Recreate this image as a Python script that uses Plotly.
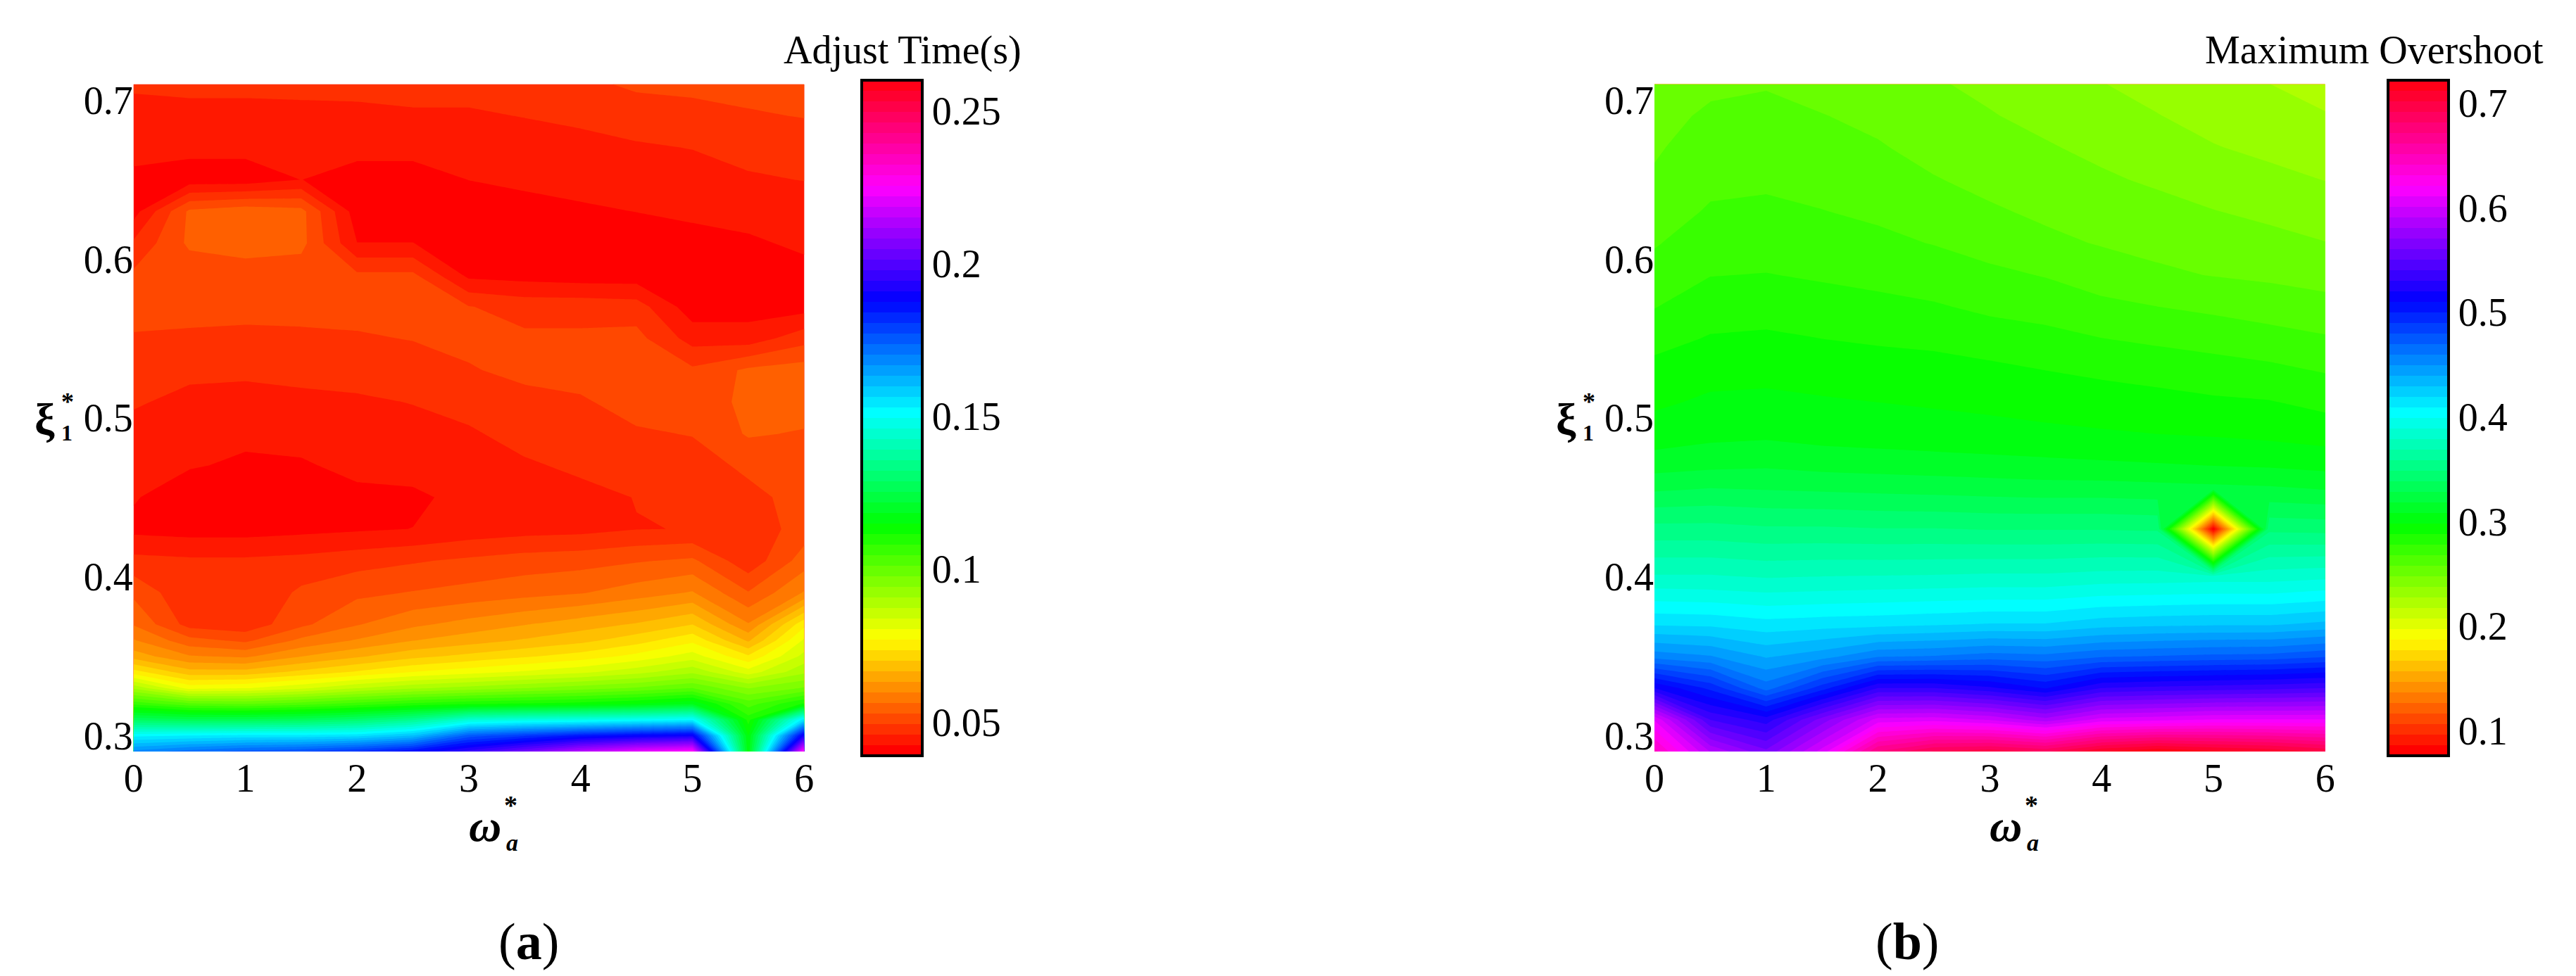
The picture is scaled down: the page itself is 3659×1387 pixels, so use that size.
import colorsys
import numpy as np
import plotly.graph_objects as go

# ---------------- data ----------------
omega = [0, 0.5, 1, 1.5, 2, 2.5, 3, 3.5, 4, 4.5, 5, 5.5, 6]

# (a) adjust time, grid rows (xi) from bottom to top
xi_a = [0.29, 0.30, 0.31, 0.32, 0.33, 0.34, 0.35, 0.36, 0.37,
        0.39, 0.41, 0.43, 0.45, 0.47, 0.49, 0.51, 0.53, 0.55,
        0.57, 0.59, 0.61, 0.63, 0.65, 0.67, 0.69, 0.71]

# one column per omega value, values listed along xi_a
adjust_time_cols = [
    [0.168, 0.152, 0.128, 0.107, 0.090, 0.075, 0.065, 0.060, 0.056,
     0.052, 0.047, 0.0415, 0.0428, 0.0438, 0.045, 0.0462, 0.047, 0.0492,
     0.050, 0.050, 0.0465, 0.041, 0.0415, 0.0438, 0.0445, 0.0465],
    [0.172, 0.153, 0.126, 0.102, 0.079, 0.068, 0.060, 0.054, 0.048,
     0.0465, 0.0465, 0.041, 0.040, 0.0428, 0.0438, 0.0452, 0.0465, 0.0488,
     0.0505, 0.0505, 0.0535, 0.0535, 0.0405, 0.0435, 0.0445, 0.047],
    [0.175, 0.154, 0.126, 0.101, 0.080, 0.068, 0.059, 0.052, 0.047,
     0.0462, 0.0465, 0.041, 0.040, 0.0418, 0.0433, 0.0448, 0.0465, 0.0485,
     0.0505, 0.0505, 0.055, 0.055, 0.0405, 0.0435, 0.0445, 0.047],
    [0.177, 0.154, 0.127, 0.103, 0.083, 0.071, 0.063, 0.057, 0.052,
     0.050, 0.047, 0.0415, 0.0405, 0.042, 0.0438, 0.0452, 0.0468, 0.0487,
     0.0505, 0.0505, 0.054, 0.054, 0.0425, 0.0435, 0.0448, 0.047],
    [0.181, 0.155, 0.130, 0.106, 0.087, 0.074, 0.066, 0.060, 0.056,
     0.052, 0.048, 0.042, 0.0415, 0.0435, 0.0445, 0.0455, 0.047, 0.049,
     0.0505, 0.050, 0.0425, 0.0405, 0.041, 0.0435, 0.045, 0.047],
    [0.187, 0.160, 0.135, 0.109, 0.090, 0.077, 0.069, 0.063, 0.059,
     0.053, 0.049, 0.0425, 0.0418, 0.0438, 0.045, 0.046, 0.0478, 0.0495,
     0.0505, 0.050, 0.0425, 0.0405, 0.041, 0.0435, 0.0455, 0.047],
    [0.196, 0.175, 0.145, 0.111, 0.092, 0.079, 0.071, 0.065, 0.061,
     0.054, 0.050, 0.0438, 0.0435, 0.0445, 0.0455, 0.047, 0.049, 0.0505,
     0.0495, 0.0415, 0.0405, 0.0405, 0.0425, 0.044, 0.0455, 0.047],
    [0.205, 0.180, 0.147, 0.112, 0.094, 0.081, 0.073, 0.067, 0.063,
     0.055, 0.051, 0.0445, 0.0445, 0.0455, 0.047, 0.048, 0.0505, 0.050,
     0.048, 0.041, 0.0405, 0.0415, 0.043, 0.0445, 0.046, 0.048],
    [0.215, 0.185, 0.148, 0.113, 0.096, 0.083, 0.075, 0.069, 0.065,
     0.056, 0.0515, 0.0448, 0.045, 0.0465, 0.0475, 0.049, 0.0505, 0.050,
     0.048, 0.0405, 0.0405, 0.042, 0.0435, 0.045, 0.0465, 0.0485],
    [0.222, 0.188, 0.150, 0.115, 0.098, 0.086, 0.078, 0.072, 0.067,
     0.058, 0.0525, 0.0458, 0.046, 0.0475, 0.049, 0.0505, 0.051, 0.0505,
     0.0475, 0.0405, 0.041, 0.0425, 0.044, 0.0455, 0.0475, 0.050],
    [0.226, 0.190, 0.152, 0.118, 0.101, 0.090, 0.082, 0.076, 0.070,
     0.060, 0.0535, 0.046, 0.0462, 0.048, 0.0495, 0.0505, 0.050, 0.0445,
     0.0405, 0.0405, 0.0415, 0.043, 0.0445, 0.046, 0.0485, 0.050],
    [0.116, 0.115, 0.110, 0.103, 0.094, 0.082, 0.074, 0.066, 0.060,
     0.053, 0.047, 0.047, 0.0485, 0.050, 0.0532, 0.0538, 0.0535, 0.044,
     0.041, 0.041, 0.042, 0.0435, 0.0455, 0.047, 0.049, 0.0505],
    [0.228, 0.192, 0.155, 0.112, 0.098, 0.090, 0.085, 0.081, 0.076,
     0.060, 0.0545, 0.051, 0.0505, 0.051, 0.0525, 0.0545, 0.0545, 0.048,
     0.041, 0.0415, 0.043, 0.044, 0.046, 0.0475, 0.0495, 0.051],
]

# (b) maximum overshoot, grid rows (xi) from bottom to top
xi_b = [0.29, 0.31, 0.33, 0.35, 0.37, 0.39, 0.40, 0.43, 0.455, 0.47, 0.49,
        0.51, 0.53, 0.55, 0.57, 0.59, 0.61, 0.63, 0.65, 0.67, 0.69, 0.71]

overshoot_cols = [
    [0.645, 0.610, 0.520, 0.455, 0.418, 0.392, 0.380, 0.352, 0.327, 0.314, 0.302,
     0.2965, 0.2915, 0.284, 0.2775, 0.2715, 0.267, 0.263, 0.259, 0.2565, 0.254, 0.252],
    [0.590, 0.540, 0.497, 0.450, 0.417, 0.391, 0.380, 0.352, 0.329, 0.316, 0.305,
     0.2995, 0.295, 0.2888, 0.2829, 0.2776, 0.2728, 0.2688, 0.2655, 0.2625, 0.2595, 0.2555],
    [0.563, 0.525, 0.465, 0.438, 0.413, 0.389, 0.378, 0.350, 0.328, 0.317, 0.306,
     0.300, 0.2955, 0.2897, 0.2836, 0.2782, 0.2736, 0.2694, 0.2664, 0.2633, 0.2603, 0.257],
    [0.605, 0.565, 0.495, 0.445, 0.415, 0.390, 0.379, 0.350, 0.327, 0.315, 0.304,
     0.299, 0.294, 0.2879, 0.2818, 0.2767, 0.2719, 0.268, 0.2647, 0.2613, 0.258, 0.2545],
    [0.672, 0.605, 0.530, 0.458, 0.416, 0.391, 0.3795, 0.349, 0.326, 0.314, 0.303,
     0.298, 0.2928, 0.2865, 0.2805, 0.275, 0.270, 0.266, 0.262, 0.2585, 0.2555, 0.2525],
    [0.693, 0.607, 0.530, 0.460, 0.418, 0.392, 0.380, 0.349, 0.325, 0.313, 0.302,
     0.297, 0.292, 0.2853, 0.2788, 0.273, 0.2674, 0.2623, 0.2582, 0.2548, 0.2515, 0.2485],
    [0.698, 0.600, 0.522, 0.464, 0.420, 0.393, 0.381, 0.348, 0.324, 0.312, 0.301,
     0.296, 0.2904, 0.2824, 0.2759, 0.270, 0.2638, 0.2588, 0.2552, 0.2517, 0.2482, 0.2455],
    [0.690, 0.585, 0.509, 0.462, 0.420, 0.393, 0.381, 0.348, 0.323, 0.311, 0.300,
     0.2945, 0.2879, 0.2807, 0.274, 0.2672, 0.2597, 0.256, 0.2522, 0.2485, 0.245, 0.2415],
    [0.712, 0.605, 0.530, 0.468, 0.425, 0.396, 0.383, 0.348, 0.323, 0.310, 0.299,
     0.293, 0.2858, 0.278, 0.2704, 0.2625, 0.2571, 0.2537, 0.249, 0.2453, 0.2415, 0.2378],
    [0.722, 0.608, 0.533, 0.470, 0.427, 0.397, 0.3835, 0.347, 0.322, 0.309, 0.298,
     0.2915, 0.2838, 0.276, 0.2678, 0.2592, 0.2553, 0.2508, 0.2461, 0.2414, 0.2378, 0.2347],
    [0.715, 0.612, 0.535, 0.472, 0.428, 0.398, 0.3845, 0.076, 0.321, 0.308, 0.297,
     0.2895, 0.282, 0.274, 0.2656, 0.2573, 0.2527, 0.2479, 0.2429, 0.238, 0.2346, 0.2315],
    [0.710, 0.612, 0.537, 0.473, 0.428, 0.398, 0.3845, 0.346, 0.320, 0.307, 0.2955,
     0.2885, 0.280, 0.272, 0.2625, 0.2561, 0.2507, 0.2453, 0.2398, 0.2356, 0.2315, 0.2275],
    [0.700, 0.612, 0.540, 0.478, 0.432, 0.401, 0.3865, 0.345, 0.318, 0.305, 0.2935,
     0.2852, 0.2771, 0.2688, 0.2608, 0.2541, 0.2479, 0.2423, 0.2373, 0.2329, 0.2281, 0.2235],
]

range_a = [0.039, 0.260]
range_b = [0.076, 0.722]
ticks_a = [0.05, 0.1, 0.15, 0.2, 0.25]
ticks_b = [0.1, 0.2, 0.3, 0.4, 0.5, 0.6, 0.7]
xi_ticks = [0.3, 0.4, 0.5, 0.6, 0.7]
omega_ticks = [0, 1, 2, 3, 4, 5, 6]

# ---------------- styling ----------------
W, H = 3659, 1387
NLEV = 64
FONT = "Liberation Serif"
FS = 56


def hsv_colorscale(n=NLEV):
    stops = [[0.0, "rgb(255,0,0)"]]
    for k in range(n):
        r, g, b = colorsys.hsv_to_rgb(k / n, 1.0, 1.0)
        stops.append([(k + 0.5) / n, f"rgb({round(r*255)},{round(g*255)},{round(b*255)})"])
    r, g, b = colorsys.hsv_to_rgb((n - 1) / n, 1.0, 1.0)
    stops.append([1.0, f"rgb({round(r*255)},{round(g*255)},{round(b*255)})"])
    return stops


CS = hsv_colorscale()

# pixel layout
top_px, bot_px = 105, 1065
ax_a = (169, 1129)
ax_b = (2346, 3306)
cb_a_left = 1211
cb_b_left = 3396


def px_x(p):
    return p / W


def px_y(p):
    return 1 - p / H


def contour(x, y, cols, zr, ticks, cb_left, xaxis, yaxis):
    z = np.array(cols).T
    size = (zr[1] - zr[0]) / NLEV * (1 - 1e-9)
    return go.Contour(
        x=x, y=y, z=z, xaxis=xaxis, yaxis=yaxis,
        zmin=zr[0], zmax=zr[1],
        colorscale=CS,
        autocontour=False,
        contours=dict(start=zr[0], end=zr[0] + NLEV * size, size=size, coloring="fill", showlines=False),
        line=dict(width=0, smoothing=0),
        hoverinfo="skip",
        colorbar=dict(
            x=px_x(cb_left), xanchor="left", xpad=0,
            y=(px_y(top_px) + px_y(bot_px)) / 2, yanchor="middle", ypad=0,
            len=bot_px - top_px, lenmode="pixels",
            thickness=86, outlinewidth=4, outlinecolor="black",
            tickmode="array", tickvals=ticks, ticktext=[f"{t:g}" for t in ticks],
            ticks="", ticklen=0,
            tickfont=dict(family=FONT, size=FS, color="black"),
        ),
    )


fig = go.Figure()
fig.add_trace(contour(omega, xi_a, adjust_time_cols, range_a, ticks_a, cb_a_left, "x", "y"))
fig.add_trace(contour(omega, xi_b, overshoot_cols, range_b, ticks_b, cb_b_left, "x2", "y2"))

axis_common = dict(showgrid=False, zeroline=False, showline=False, ticks="",
                   tickfont=dict(family=FONT, size=FS, color="black"))
ydom = [px_y(bot_px), px_y(top_px)]
fig.update_layout(
    width=W, height=H,
    margin=dict(l=0, r=0, t=0, b=0),
    paper_bgcolor="white", plot_bgcolor="white",
    showlegend=False,
    xaxis=dict(domain=[px_x(ax_a[0]), px_x(ax_a[1])], range=[0, 6], tickvals=omega_ticks,
               anchor="y", **axis_common),
    yaxis=dict(domain=ydom, range=[0.29, 0.71], tickvals=xi_ticks,
               ticktext=[f"{t:g}" for t in xi_ticks], anchor="x", **axis_common),
    xaxis2=dict(domain=[px_x(ax_b[0]), px_x(ax_b[1])], range=[0, 6], tickvals=omega_ticks,
                anchor="y2", **axis_common),
    yaxis2=dict(domain=ydom, range=[0.29, 0.71], tickvals=xi_ticks,
                ticktext=[f"{t:g}" for t in xi_ticks], anchor="x2", **axis_common),
)


def ann(text, xp, yp, size, xanchor="center", yanchor="middle"):
    fig.add_annotation(text=text, x=px_x(xp), y=px_y(yp), xref="paper", yref="paper",
                       showarrow=False, xanchor=xanchor, yanchor=yanchor,
                       font=dict(family=FONT, size=size, color="black"))


# colorbar titles
ann("Adjust Time(s)", 1270, 56, FS)
ann("Maximum Overshoot", 3376, 56, FS)

# axis labels (symbols with stacked sub/superscripts)
for off in (0, ax_b[0] - ax_a[0]):
    ann("<b><i>ω</i></b>", 672 + off, 1172, 64)
    ann("<b><i>a</i></b>", 711 + off, 1196, 34)
    ann("<b>*</b>", 709 + off, 1142, 38)
    ann("<b>ξ</b>", 42 + off, 588, 64)
    ann("<b>1</b>", 74 + off, 606, 32)
    ann("<b>*</b>", 75 + off, 562, 36)

# panel labels
ann("(<b>a</b>)", 735, 1338, 74)
ann("(<b>b</b>)", 2708, 1338, 74)

fig.write_html("out.html")
